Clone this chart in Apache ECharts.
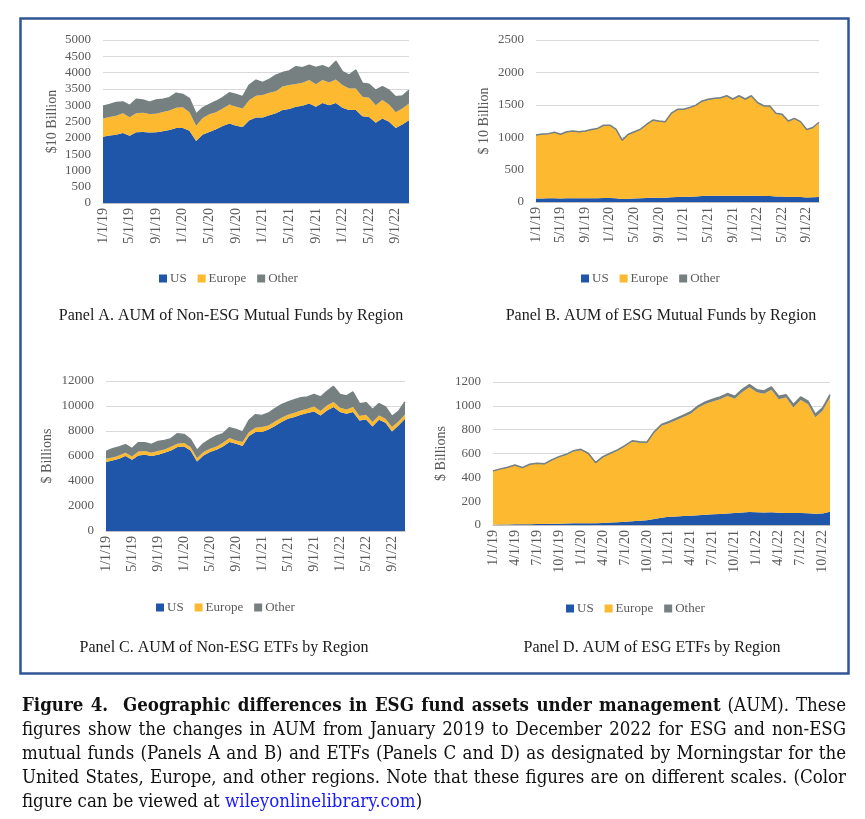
<!DOCTYPE html>
<html>
<head>
<meta charset="utf-8">
<script src="https://cdn.jsdelivr.net/npm/echarts@6/dist/echarts.min.js"></script>
<style>
  html, body { margin: 0; padding: 0; background: #fff; }
  #wrap { position: relative; width: 865px; height: 819px; overflow: hidden; }
  #chart { position: absolute; left: 0; top: 0; width: 865px; height: 819px; }
  #cap { position: absolute; left: 22px; top: 693px; width: 824px; font-family: "DejaVu Serif Condensed", "DejaVu Serif", serif; font-stretch: condensed; font-size: 18.5px; line-height: 24px; color: #111; }
  #cap .l { text-align: justify; text-align-last: justify; white-space: nowrap; }
  #cap .last { text-align: left; white-space: nowrap; }
  #cap a { color: #1a1aff; text-decoration: none; }
</style>
</head>
<body>
<div id="wrap">
  <div id="chart"></div>
  <div id="cap">
    <div class="l"><b>Figure 4.&nbsp; Geographic differences in ESG fund assets under management</b> (AUM). These</div>
    <div class="l">figures show the changes in AUM from January 2019 to December 2022 for ESG and non-ESG</div>
    <div class="l">mutual funds (Panels A and B) and ETFs (Panels C and D) as designated by Morningstar for the</div>
    <div class="l">United States, Europe, and other regions. Note that these figures are on different scales. (Color</div>
    <div class="last">figure can be viewed at <a>wileyonlinelibrary.com</a>)</div>
  </div>
</div>
<script>
// ---- categories (monthly, Jan 2019 - Nov 2022) ----
const months = ["1/1/19","2/1/19","3/1/19","4/1/19","5/1/19","6/1/19","7/1/19","8/1/19","9/1/19","10/1/19","11/1/19","12/1/19",
  "1/1/20","2/1/20","3/1/20","4/1/20","5/1/20","6/1/20","7/1/20","8/1/20","9/1/20","10/1/20","11/1/20","12/1/20",
  "1/1/21","2/1/21","3/1/21","4/1/21","5/1/21","6/1/21","7/1/21","8/1/21","9/1/21","10/1/21","11/1/21","12/1/21",
  "1/1/22","2/1/22","3/1/22","4/1/22","5/1/22","6/1/22","7/1/22","8/1/22","9/1/22","10/1/22","11/1/22"];

// ---- Panel A: Non-ESG Mutual Funds ($10 Billion) ----
const aUS = [2030,2070,2090,2150,2060,2170,2180,2160,2170,2200,2240,2300,2300,2220,1900,2100,2180,2260,2360,2440,2370,2330,2540,2620,2620,2690,2750,2850,2880,2950,2980,3050,2950,3070,3000,3070,2920,2850,2850,2660,2640,2460,2590,2490,2300,2410,2540];
const aEurope = [560,570,590,600,570,580,590,570,570,590,600,620,640,560,470,510,540,520,540,580,580,570,620,670,690,690,680,720,740,700,710,720,690,700,700,720,700,660,660,600,590,540,570,530,480,490,510];
const aOther = [380,380,400,350,360,430,390,360,420,390,390,450,390,420,360,310,300,340,330,360,380,360,460,480,390,410,490,430,430,530,460,460,520,440,430,560,410,410,570,410,410,460,410,440,480,380,410];

// ---- Panel B: ESG Mutual Funds ($10 Billion) ----
const bUS = [55,55,56,58,55,58,58,57,58,58,59,60,60,57,45,52,55,58,62,66,66,66,72,78,80,82,85,92,95,96,97,98,96,98,97,98,95,92,92,85,84,78,80,77,70,72,78];
const bEurope = [971,987,991,1009,982,1019,1029,1020,1029,1053,1067,1116,1116,1059,902,985,1021,1058,1129,1189,1174,1164,1288,1341,1339,1367,1399,1456,1478,1492,1501,1530,1482,1530,1481,1530,1428,1382,1377,1274,1260,1162,1200,1153,1040,1068,1142];
const bOther = [8,8,8,8,8,8,8,8,8,9,9,9,9,9,8,8,9,9,9,10,10,10,10,11,11,11,11,12,12,12,12,12,12,12,12,12,12,11,11,11,11,10,10,10,10,10,10];

// ---- Panel C: Non-ESG ETFs ($ Billions) ----
const cUS = [5520,5650,5790,6000,5710,6050,6110,6000,6110,6270,6450,6720,6770,6450,5570,6050,6320,6510,6770,7120,6990,6800,7600,7920,7920,8130,8400,8720,8990,9120,9310,9440,9570,9250,9650,9920,9520,9390,9520,8850,8930,8370,8900,8670,7970,8450,8990];
const cEurope = [270,240,260,270,260,320,290,270,290,260,300,270,270,270,270,270,270,260,300,320,260,320,320,350,400,320,370,350,320,350,340,350,400,350,400,400,350,340,400,350,380,350,350,320,350,320,340];
const cOther = [580,700,670,630,620,700,670,660,770,720,640,800,690,610,610,670,740,830,720,830,880,800,930,1040,930,990,1020,1040,1010,1040,1020,930,960,1120,1120,1250,1060,1070,1200,990,960,990,940,930,850,800,990];

// ---- Panel D: ESG ETFs ($ Billions) ----
const dUS = [3,4,5,6,6,7,8,9,10,11,12,14,15,15,14,17,20,23,27,32,35,40,50,60,70,72,75,78,82,86,90,93,97,100,104,110,108,105,106,103,100,100,101,98,95,97,112];
const dEurope = [446,462,475,493,471,498,505,498,530,557,575,604,613,580,504,550,575,600,631,667,656,646,723,772,783,808,832,856,901,929,946,962,985,959,1010,1045,1005,997,1029,953,970,887,949,916,809,862,957];
const dOther = [5,5,5,5,5,5,5,6,6,6,6,6,7,7,6,7,7,7,8,8,8,8,10,12,13,14,15,16,17,18,19,20,21,21,22,23,23,23,24,24,24,24,25,25,24,24,25];

const seriesNames = ["US", "Europe", "Other"];
const colors = { US: "#1F56A9", Europe: "#FDB92F", Other: "#768080" };
const FONT = "Liberation Serif";
const LABEL = "#595959";

const panels = [
  { data: [aUS, aEurope, aOther], grid: { left: 103, top: 40, width: 306, height: 163 }, max: 5000, interval: 500, yName: "$10 Billion", nameGap: 44, xInterval: 3,
    title: "Panel A. AUM of Non-ESG Mutual Funds by Region", titleX: 231, titleY: 316, legendLeft: 154, legendTop: 267 },
  { data: [bUS, bEurope, bOther], grid: { left: 536, top: 40, width: 283, height: 162 }, max: 2500, interval: 500, yName: "$ 10 Billion", nameGap: 45, xInterval: 3,
    title: "Panel B. AUM of ESG Mutual Funds by Region", titleX: 661, titleY: 316, legendLeft: 576, legendTop: 267 },
  { data: [cUS, cEurope, cOther], grid: { left: 106, top: 381, width: 299, height: 150 }, max: 12000, interval: 2000, yName: "$ Billions", nameGap: 52, xInterval: 3,
    title: "Panel C. AUM of Non-ESG ETFs by Region", titleX: 224, titleY: 648, legendLeft: 151, legendTop: 596 },
  { data: [dUS, dEurope, dOther], grid: { left: 493, top: 382, width: 337, height: 143 }, max: 1200, interval: 200, yName: "$ Billions", nameGap: 45, xInterval: 2,
    title: "Panel D. AUM of ESG ETFs by Region", titleX: 652, titleY: 648, legendLeft: 561, legendTop: 597 }
];

const option = {
  animation: false,
  backgroundColor: "#fff",
  grid: [], xAxis: [], yAxis: [], series: [], legend: [],
  graphic: [
    { type: "rect", shape: { x: 20.5, y: 18.5, width: 828, height: 655 }, style: { fill: "none", stroke: "#2F5597", lineWidth: 2.5 } }
  ]
};

panels.forEach((p, i) => {
  option.grid.push(Object.assign({ containLabel: false }, p.grid));
  option.xAxis.push({
    type: "category", gridIndex: i, data: months, boundaryGap: false,
    axisTick: { show: false },
    axisLine: { lineStyle: { color: "#BFBFBF", width: 1 } },
    axisLabel: { rotate: 90, interval: p.xInterval, color: LABEL, fontFamily: FONT, fontSize: 14, margin: 5 },
    splitLine: { show: false }
  });
  option.yAxis.push({
    type: "value", gridIndex: i, min: 0, max: p.max, interval: p.interval,
    axisLine: { show: false }, axisTick: { show: false },
    axisLabel: { color: LABEL, fontFamily: FONT, fontSize: 13, margin: 12, formatter: (v) => String(v) },
    splitLine: { lineStyle: { color: "#D9D9D9", width: 1 } },
    name: p.yName, nameLocation: "middle", nameRotate: 90, nameGap: p.nameGap,
    nameTextStyle: { color: LABEL, fontFamily: FONT, fontSize: 14 }
  });
  seriesNames.forEach((n, k) => {
    option.series.push({
      name: n, type: "line", xAxisIndex: i, yAxisIndex: i, stack: "s" + i,
      data: p.data[k], symbol: "none", smooth: false,
      color: colors[n],
      lineStyle: { width: n === "Other" ? 1.5 : 0, color: colors[n] },
      areaStyle: { color: colors[n], opacity: 1 },
      z: 2 + k
    });
  });
  option.legend.push({
    data: seriesNames, left: p.legendLeft, top: p.legendTop, icon: "rect",
    itemWidth: 8, itemHeight: 8, itemGap: 11, selectedMode: false,
    textStyle: { color: LABEL, fontFamily: FONT, fontSize: 13, padding: [0, 0, 0, -2] }
  });
  option.graphic.push({
    type: "text", x: p.titleX, y: p.titleY,
    style: { text: p.title, fill: "#1a1a1a", font: "16px 'Liberation Serif'", textAlign: "center", textVerticalAlign: "middle" }
  });
});

const chart = echarts.init(document.getElementById("chart"), null, { renderer: "canvas" });
chart.setOption(option);

// keep every caption line on one line: shrink font slightly only if a line overflows
document.querySelectorAll("#cap > div").forEach((el) => {
  let fs = 18.5;
  while (el.scrollWidth > el.clientWidth + 0.5 && fs > 12) {
    fs -= 0.25;
    el.style.fontSize = fs + "px";
  }
});
</script>
</body>
</html>
